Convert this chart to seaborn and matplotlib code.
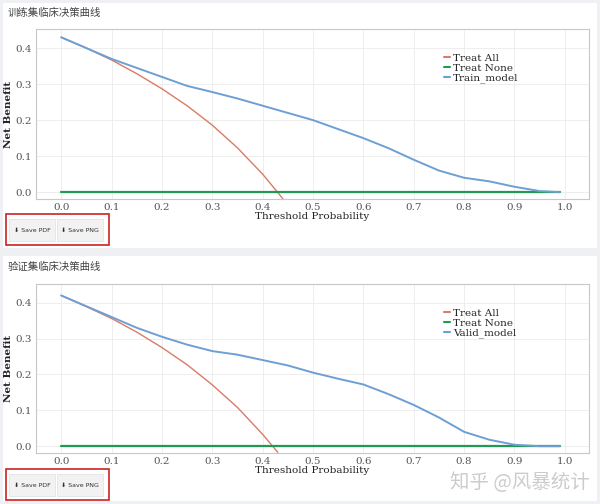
import matplotlib
matplotlib.use("Agg")
import matplotlib.pyplot as plt
from matplotlib.patches import Rectangle
import seaborn as sns
import pandas as pd

sns.set_theme(style="whitegrid")
plt.rcParams['font.family'] = ['DejaVu Serif', 'Noto Sans CJK SC']

thr = [0.0, 0.05, 0.1, 0.15, 0.2, 0.25, 0.3, 0.35, 0.4, 0.45, 0.5, 0.55, 0.6, 0.65, 0.7, 0.75, 0.8, 0.85, 0.9, 0.95, 0.99]
train_model = [0.43, 0.40, 0.37, 0.345, 0.32, 0.295, 0.278, 0.26, 0.24, 0.22, 0.20, 0.175, 0.15, 0.122, 0.09, 0.06, 0.04, 0.03, 0.015, 0.003, 0.0]
valid_model = [0.42, 0.39, 0.36, 0.33, 0.305, 0.283, 0.265, 0.255, 0.24, 0.225, 0.205, 0.188, 0.172, 0.145, 0.115, 0.08, 0.04, 0.018, 0.004, 0.0, 0.0]
treat_none = [0.0] * len(thr)
all_thr_train = [0.0, 0.05, 0.1, 0.15, 0.2, 0.25, 0.3, 0.35, 0.4, 0.44]
all_train = [0.43, 0.40, 0.367, 0.329, 0.287, 0.24, 0.186, 0.123, 0.05, -0.018]
all_thr_valid = [0.0, 0.05, 0.1, 0.15, 0.2, 0.25, 0.3, 0.35, 0.4, 0.43]
all_valid = [0.42, 0.389, 0.356, 0.318, 0.275, 0.227, 0.171, 0.108, 0.033, -0.017]

titles = ["训练集临床决策曲线", "验证集临床决策曲线"]
model_names = ["Train_model", "Valid_model"]
colors = {"Treat All": "#D97B66", "Treat None": "#1E9A52", "model": "#6E9FD4"}

W, H = 600, 504
fig = plt.figure(figsize=(6, 5.04), dpi=100)
fig.patch.set_facecolor("#EEF0F3")

def rect(l, t, r, b):
    return [l / W, 1 - b / H, (r - l) / W, (b - t) / H]

panels = [
    dict(bg=(3, 3, 597, 248), ax=(36, 29, 589, 199), top=0.453, bot=-0.019, title_y=13, btn=214),
    dict(bg=(3, 256, 597, 501), ax=(36, 284, 589, 453), top=0.452, bot=-0.019, title_y=267, btn=469),
]
sets = [(all_thr_train, all_train, train_model), (all_thr_valid, all_valid, valid_model)]

for i, p in enumerate(panels):
    l, t, r, b = p["bg"]
    fig.patches.append(Rectangle((l / W, 1 - b / H), (r - l) / W, (b - t) / H,
                                 transform=fig.transFigure, facecolor="white", edgecolor="none", zorder=-5))
    fig.text(8 / W, 1 - p["title_y"] / H, titles[i], fontsize=7.5, color="#444444",
             family=['Noto Sans CJK SC', 'DejaVu Sans'], va="center")
    ax = fig.add_axes(rect(*p["ax"]))
    ax.set_zorder(3)
    at, av, mv = sets[i]
    df = pd.concat([
        pd.DataFrame({"x": at, "y": av, "s": "Treat All"}),
        pd.DataFrame({"x": thr, "y": treat_none, "s": "Treat None"}),
        pd.DataFrame({"x": thr, "y": mv, "s": model_names[i]}),
    ])
    pal = {"Treat All": colors["Treat All"], "Treat None": colors["Treat None"], model_names[i]: colors["model"]}
    sns.lineplot(data=df, x="x", y="y", hue="s", palette=pal, ax=ax, sort=True)
    for ln, lw in zip(ax.lines, [1.0, 1.6, 1.4]):
        ln.set_linewidth(lw)
    ax.set_xlim(-0.05, 1.048)
    ax.set_ylim(p["bot"], p["top"])
    ax.set_xticks([0, 0.1, 0.2, 0.3, 0.4, 0.5, 0.6, 0.7, 0.8, 0.9, 1.0])
    ax.set_yticks([0, 0.1, 0.2, 0.3, 0.4])
    ax.set_xticklabels([f"{v:.1f}" for v in ax.get_xticks()])
    ax.set_yticklabels([f"{v:.1f}" for v in ax.get_yticks()])
    ax.tick_params(labelsize=7.5, colors="#555555", pad=1, length=2)
    ax.set_xlabel("Threshold Probability", fontsize=7.5, color="#222222", labelpad=0)
    ax.set_ylabel("Net Benefit", fontsize=7.5, color="#222222", labelpad=2, fontweight="bold")
    ax.grid(color="#EBEBEB", linewidth=0.6)
    for s in ax.spines.values():
        s.set_color("#C8C8C8")
        s.set_linewidth(0.8)
    ax.legend(loc="upper left", bbox_to_anchor=(0.73, 0.88), frameon=False, fontsize=7.5,
              handlelength=0.6, handletextpad=0.3, labelspacing=0.05, borderaxespad=0)
    bt = p["btn"]
    fig.patches.append(Rectangle((6 / W, 1 - (bt + 31) / H), 103 / W, 31 / H, transform=fig.transFigure,
                                 facecolor="none", edgecolor="#CC2222", linewidth=1.2, zorder=4))
    for bx, lab in [(9, "Save PDF"), (57, "Save PNG")]:
        fig.patches.append(Rectangle((bx / W, 1 - (bt + 27) / H), 46 / W, 22 / H, transform=fig.transFigure,
                                     facecolor="#F2F2F2", edgecolor="#E0E0E0", linewidth=0.5, zorder=4))
        fig.text((bx + 23) / W, 1 - (bt + 16) / H, "⬇ " + lab, fontsize=4.5, color="#333333",
                 ha="center", va="center", family=['DejaVu Sans'], zorder=5)

fig.text(590 / W, 1 - 483 / H, "知乎 @风暴统计", fontsize=14, color="#CCCCCC", ha="right", va="center",
         family=['Noto Sans CJK SC', 'DejaVu Sans'], zorder=5)
fig.savefig("out.png", dpi=100, facecolor=fig.get_facecolor())
